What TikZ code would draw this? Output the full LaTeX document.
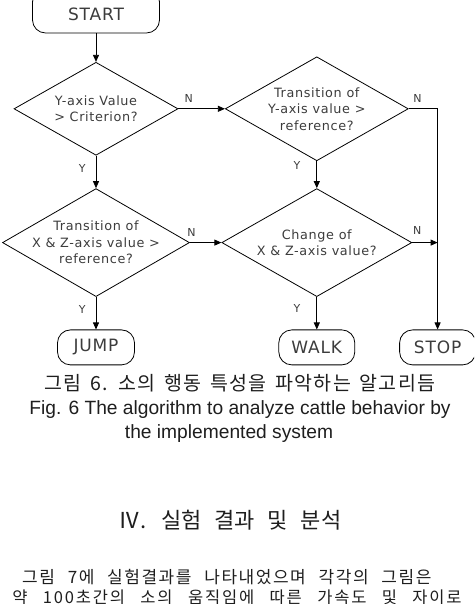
\documentclass[tikz,border=0pt]{standalone}
\usepackage{fontspec}
\setmainfont{DejaVu Sans}
\newfontfamily\flowfont[LetterSpace=5]{DejaVu Sans}
\newfontfamily\capfont{Liberation Sans}
\newfontfamily\krcapfont[LetterSpace=6,WordSpace=1.6]{Noto Sans CJK KR}
\newfontfamily\krheadfont[WordSpace=2.6]{Noto Sans CJK KR}
\newfontfamily\krbodyfont[LetterSpace=9,WordSpace=2.4]{Noto Sans CJK KR}
\newfontfamily\krlastfont[LetterSpace=11,WordSpace=2.8]{Noto Sans CJK KR}
\usepackage{tikz}
\usetikzlibrary{
  arrows.meta,
  positioning,
  shapes.geometric
}
\definecolor{ink}{RGB}{60,60,60}
\definecolor{captext}{RGB}{30,30,30}

\begin{document}
\begin{tikzpicture}[
  x=1pt,y=1pt,
  node distance=28pt and 46pt,
  term/.style={rectangle,rounded corners=13pt,draw,line width=0.8pt,minimum width=77pt,minimum height=35pt,inner sep=0pt,text=ink,font=\flowfont\fontsize{17}{19}\selectfont},
  cond/.style={diamond,draw,line width=0.8pt,inner xsep=-25pt,inner ysep=-10pt,aspect=1.8,align=center,text=ink,font=\flowfont\fontsize{12.8}{16.5}\selectfont},
  yn/.style={text=ink,inner sep=0pt,font=\flowfont\fontsize{11}{12}\selectfont},
  arr/.style={-{Triangle[length=7pt,width=6pt]},line width=0.8pt},
  captxt/.style={text=captext,inner sep=0pt}
]
\clip (0,0) rectangle (474,604);
\node[term,minimum width=127pt,minimum height=44pt] (start) at (96,593) {\raisebox{-3.5pt}[12pt][0pt]{START}};
\node[cond,minimum width=164pt,minimum height=93pt,below=28.5pt of start] (yval) {Y-axis Value\\> Criterion?};
\node[cond,minimum width=183pt,minimum height=104pt,right=46.5pt of yval] (ytrans) {Transition of\\Y-axis value >\\reference?};
\node[cond,minimum width=187pt,minimum height=108pt,below=32.5pt of yval] (xztrans) {Transition of\\X \& Z-axis value >\\reference?};
\node[cond,minimum width=190pt,minimum height=108pt,below=27pt of ytrans] (xzchange) {Change of\\X \& Z-axis value?};
\node[term,below=32.5pt of xztrans] (jump) {JUMP};
\node[term,minimum width=76pt,below=32.5pt of xzchange] (walk) {WALK};
\node[term,minimum width=76pt,right=44pt of walk] (stop) {STOP};
\coordinate (turn) at (stop |- ytrans.east);
\coordinate (join) at (stop |- xzchange.east);
\draw[arr] (start)--(yval);
\draw[arr] (yval)--node[yn,pos=0.22,above=6pt]{N}(ytrans);
\draw[arr] (yval)--node[yn,pos=0.38,left=10pt]{Y}(xztrans);
\draw[arr] (ytrans)--node[yn,pos=0.15,left=16pt]{Y}(xzchange);
\draw[arr] (ytrans.east)--node[yn,pos=0.3,above=6pt]{N}(turn)--(stop);
\draw[arr] (xztrans)--node[yn,pos=0.05,above=6pt]{N}(xzchange);
\draw[arr] (xztrans)--node[yn,pos=0.38,left=10pt]{Y}(jump);
\draw[arr] (xzchange)--node[yn,pos=0.35,left=16pt]{Y}(walk);
\draw[arr] (xzchange.east)--node[yn,pos=0.2,above=8pt]{N}(join);
\node[captxt,font=\krcapfont\fontsize{19.5}{22}\selectfont] (kcap) at (240,221) {그림 6. 소의 행동 특성을 파악하는 알고리듬};
\node[captxt,font=\capfont\fontsize{19.2}{22}\selectfont] (ecap) at (240,194) {Fig. 6 The algorithm to analyze cattle behavior by};
\node[captxt,font=\capfont\fontsize{19.2}{22}\selectfont] (ecap2) at (229,170) {the implemented system};
\node[captxt,font=\krheadfont\fontsize{22}{24}\selectfont] (sect) at (230,84) {Ⅳ. 실험 결과 및 분석};
\node[captxt,anchor=west,font=\krbodyfont\fontsize{17}{20}\selectfont] (para) at (22,27) {그림 7에 실험결과를 나타내었으며 각각의 그림은};
\node[captxt,font=\krlastfont\fontsize{16.5}{18}\selectfont] (para2) at (237,7) {약 100초간의 소의 움직임에 따른 가속도 및 자이로};
\end{tikzpicture}
\end{document}
